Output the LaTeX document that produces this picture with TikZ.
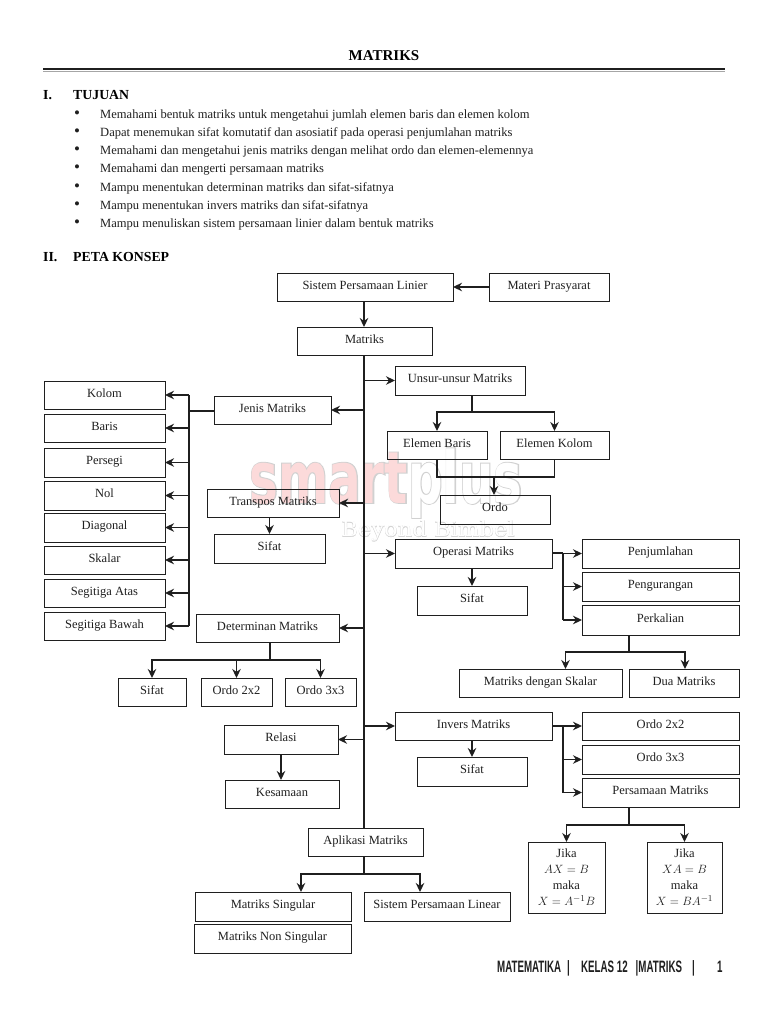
\documentclass[tikz,border=0pt]{standalone}
\usepackage{fontspec}
\usetikzlibrary{arrows.meta,calc}
\setmainfont{Liberation Serif}
\newfontfamily\footfont[FakeStretch=0.59]{Liberation Sans}
\newfontfamily\wmfont[FakeStretch=0.67]{DejaVu Sans}
\newfontfamily\wmoutline[FakeStretch=0.67,FakeBold=2.5]{DejaVu Sans}
\newfontfamily\beyondfont[FakeStretch=1.08]{DejaVu Serif}
\newfontfamily\beyondout[FakeStretch=1.08,FakeBold=2]{DejaVu Serif}
\definecolor{ink}{gray}{0.12}
\definecolor{wmpink}{RGB}{252,218,218}
\definecolor{wmgrey}{gray}{0.82}
\newcommand{\bx}[6]{\node[boxn,minimum width={(#4-#2)*1pt},minimum height={(#5-#3)*1pt}] (#1) at ({(#2+#4)/2},{(#3+#5)/2}) {#6};}
\newcommand{\bul}[2]{\node[bulletn] at (77,{#1+0.5}) {\textbullet}; \node[itemn] at (100,{#1+1}) {#2};}
\newcommand{\mth}[1]{{\fontsize{13}{16}\selectfont$#1$}}
\tikzset{
  boxn/.style={draw=ink,line width=0.95pt,inner sep=0pt,outer sep=0pt,font=\fontsize{12.5}{14}\selectfont,text=ink,text height=8pt,text depth=4pt,align=center},
  itemn/.style={anchor=west,inner sep=0pt,font=\fontsize{12.55}{14}\selectfont,text=ink,text height=9pt,text depth=3pt},
  bulletn/.style={inner sep=0pt,font=\fontsize{17}{17}\selectfont,text=ink,text height=9pt,text depth=3pt},
  headn/.style={anchor=west,inner sep=0pt,font=\fontsize{13.8}{16}\selectfont\bfseries,text=black,text height=9pt,text depth=3pt},
  arr/.style={draw=ink,line width=1.35pt,-{Stealth[length=9pt,width=8.5pt]}},
  ln/.style={draw=ink,line width=1.35pt},
  mathn/.style={draw=ink,line width=0.95pt,inner sep=0pt,outer sep=0pt,font=\fontsize{12.5}{16}\selectfont,text=ink,align=center},
  footn/.style={anchor=base west,inner sep=0pt,font=\fontsize{16.5}{18}\selectfont\footfont\bfseries,text=ink},
}
\begin{document}
\begin{tikzpicture}[x=1pt,y=-1pt]
\useasboundingbox[fill=white] (0,0) rectangle (768,1024);
% watermark
\node[inner sep=0pt,anchor=base east,text=wmgrey,font=\fontsize{72}{72}\selectfont\wmoutline\bfseries] at (408,503) {smart};
\node[inner sep=0pt,anchor=base east,text=wmpink,font=\fontsize{72}{72}\selectfont\wmfont\bfseries] at (408,503) {smart};
\node[inner sep=0pt,anchor=base west,text=wmgrey,font=\fontsize{72}{72}\selectfont\wmoutline\bfseries] at (408,503) {plus};
\node[inner sep=0pt,anchor=base west,text=white,font=\fontsize{72}{72}\selectfont\wmfont\bfseries] at (408,503) {plus};
\node[inner sep=0pt,text=wmgrey,font=\fontsize{21}{21}\selectfont\beyondout] at (428,531) {Beyond Bimbel};
\node[inner sep=0pt,text=white,font=\fontsize{21}{21}\selectfont\beyondfont] at (428,531) {Beyond Bimbel};
% header
\node[inner sep=0pt,font=\fontsize{15}{18}\selectfont\bfseries] (title) at (384,56) {MATRIKS};
\fill[ink] (43,68.2) rectangle (725,70.0);
\fill[gray!70] (43,70.6) rectangle (725,71.6);
\node[headn] (h1) at (43,97) {I.};
\node[headn] (h1b) at (73,97) {TUJUAN};
\bul{115}{Memahami bentuk matriks untuk mengetahui jumlah elemen baris dan elemen kolom}
\bul{133}{Dapat menemukan sifat komutatif dan asosiatif pada operasi penjumlahan matriks}
\bul{151}{Memahami dan mengetahui jenis matriks dengan melihat ordo dan elemen-elemennya}
\bul{169}{Memahami dan mengerti persamaan matriks}
\bul{188}{Mampu menentukan determinan matriks dan sifat-sifatnya}
\bul{206}{Mampu menentukan invers matriks dan sifat-sifatnya}
\bul{224}{Mampu menuliskan sistem persamaan linier dalam bentuk matriks}
\node[headn] (h2) at (43,258) {II.};
\node[headn] (h2b) at (73,258) {PETA KONSEP};
% boxes
\bx{sistem}{277}{273}{453}{301}{Sistem Persamaan Linier}
\bx{materi}{489}{273}{609}{301}{Materi Prasyarat}
\bx{matriks}{297}{327}{432}{355}{Matriks}
\bx{unsur}{395}{366}{525}{395}{Unsur-unsur Matriks}
\bx{ebaris}{387}{431}{487}{459}{Elemen Baris}
\bx{ekolom}{500}{431}{609}{459}{Elemen Kolom}
\bx{ordo}{440}{495}{550}{524}{Ordo}
\bx{jenis}{214}{396}{331}{424}{Jenis Matriks}
\bx{kolom}{44}{381}{165}{409}{Kolom}
\bx{baris}{44}{414}{165}{442}{Baris}
\bx{persegi}{44}{448}{165}{477}{Persegi}
\bx{nol}{44}{481}{165}{510}{Nol}
\bx{diagonal}{44}{513}{165}{542}{Diagonal}
\bx{skalar}{44}{546}{165}{574}{Skalar}
\bx{atas}{44}{579}{165}{607}{Segitiga Atas}
\bx{bawah}{44}{612}{165}{640}{Segitiga Bawah}
\bx{transpos}{207}{489}{339}{517}{Transpos Matriks}
\bx{sifatt}{214}{534}{325}{563}{Sifat}
\bx{operasi}{395}{539}{552}{568}{Operasi Matriks}
\bx{sifato}{417}{586}{527}{615}{Sifat}
\bx{jumlah}{582}{539}{739}{568}{Penjumlahan}
\bx{kurang}{582}{572}{739}{601}{Pengurangan}
\bx{kali}{582}{605}{739}{635}{Perkalian}
\bx{mskalar}{459}{669}{622}{697}{Matriks dengan Skalar}
\bx{dua}{629}{669}{739}{697}{Dua Matriks}
\bx{det}{196}{614}{339}{642}{Determinan Matriks}
\bx{sifatd}{118}{678}{186}{706}{Sifat}
\bx{dordo2}{201}{678}{272}{706}{Ordo 2x2}
\bx{dordo3}{285}{678}{356}{706}{Ordo 3x3}
\bx{relasi}{224}{725}{338}{754}{Relasi}
\bx{kesamaan}{225}{780}{339}{808}{Kesamaan}
\bx{invers}{395}{712}{552}{740}{Invers Matriks}
\bx{sifati}{417}{757}{527}{786}{Sifat}
\bx{iordo2}{582}{712}{739}{740}{Ordo 2x2}
\bx{iordo3}{582}{745}{739}{774}{Ordo 3x3}
\bx{persm}{582}{778}{739}{807}{Persamaan Matriks}
\node[mathn,minimum width=77pt,minimum height=71pt] (jika1) at (566.5,877.5) {Jika\\\mth{AX=B}\\maka\\\mth{X=A^{-1}B}};
\node[mathn,minimum width=75pt,minimum height=71pt] (jika2) at (684.5,877.5) {Jika\\\mth{XA=B}\\maka\\\mth{X=BA^{-1}}};
\bx{aplikasi}{308}{828}{423}{856}{Aplikasi Matriks}
\bx{singular}{195}{892}{351}{921}{Matriks Singular}
\bx{linear}{364}{892}{510}{921}{Sistem Persamaan Linear}
\bx{nonsing}{194}{924}{351}{953}{Matriks Non Singular}
% junction coordinates
\coordinate (sp) at (364,355);
\coordinate (spe) at (364,828);
\coordinate (ls) at (189,411);
\coordinate (ub) at (472,412);
\coordinate (eb) at (494,477);
\coordinate (os) at (563,553);
\coordinate (is) at (563,726);
\coordinate (kb) at (629,652);
\coordinate (pb) at (629,825);
\coordinate (db) at (270,660);
\coordinate (ab) at (364,874);
% connectors
\draw[arr] (materi.west) -- (sistem.east);
\draw[arr] (sistem.south -| sp) -- (matriks.north -| sp);
\draw[ln] (sp) -- (spe);
\draw[arr] (sp |- unsur.west) -- (unsur.west);
\draw[arr] (sp |- jenis.east) -- (jenis.east);
\draw[arr] (sp |- transpos.east) -- (transpos.east);
\draw[arr] (sp |- operasi.west) -- (operasi.west);
\draw[arr] (sp |- det.east) -- (det.east);
\draw[arr] (sp |- invers.west) -- (invers.west);
\draw[arr] (sp |- relasi.east) -- (relasi.east);
% unsur branch
\draw[ln] (unsur.south -| ub) -- (ub);
\draw[arr] (ub) -| (ebaris.north);
\draw[arr] (ub) -| (ekolom.north);
\draw[ln] (ebaris.south) |- (ekolom.south |- eb) -- (ekolom.south);
\draw[arr] (eb) -- (eb |- ordo.north);
% jenis branch
\draw[ln] (jenis.west |- ls) -- (ls);
\draw[ln] (ls |- kolom.east) -- (ls |- bawah.east);
\foreach \n in {kolom,baris,persegi,nol,diagonal,skalar,atas,bawah}{\draw[arr] (ls |- \n.east) -- (\n.east);}
% simple downward
\draw[arr] (transpos.south -| sifatt) -- (sifatt.north);
\draw[arr] (operasi.south -| sifato) -- (sifato.north);
\draw[arr] (invers.south -| sifati) -- (sifati.north);
\draw[arr] (relasi.south) -- (relasi.south |- kesamaan.north);
% operasi branch
\draw[ln] (operasi.east |- os) -- (os);
\draw[ln] (os) -- (os |- kali.west);
\foreach \n in {jumlah,kurang,kali}{\draw[arr] (os |- \n.west) -- (\n.west);}
% perkalian branch
\draw[ln] (kali.south -| kb) -- (kb);
\draw[arr] (kb) -| ($(mskalar.north)+(25,0)$);
\draw[arr] (kb) -| ($(dua.north)+(1,0)$);
% determinan branch
\draw[ln] (det.south -| db) -- (db);
\draw[arr] (db) -| (sifatd.north);
\draw[arr] (db) -| (dordo2.north);
\draw[arr] (db) -| (dordo3.north);
% invers branch
\draw[ln] (invers.east |- is) -- (is);
\draw[ln] (is) -- (is |- persm.west);
\foreach \n in {iordo2,iordo3,persm}{\draw[arr] (is |- \n.west) -- (\n.west);}
% persamaan branch
\draw[ln] (persm.south -| pb) -- (pb);
\draw[arr] (pb) -| (jika1.north);
\draw[arr] (pb) -| (jika2.north);
% aplikasi branch
\draw[ln] (aplikasi.south -| ab) -- (ab);
\draw[arr] (ab) -| ($(singular.north)+(28,0)$);
\draw[arr] (ab) -| ($(linear.north)+(-17,0)$);
% footer
\node[footn] (foot) at (497,972) {MATEMATIKA};
\node[footn] (foot2) at (567,972) {|};
\node[footn] (foot3) at (581,972) {KELAS 12};
\node[footn] (foot4) at (635.5,972) {|MATRIKS};
\node[footn] (foot5) at (692,972) {|};
\node[footn] (foot6) at (717,972) {1};
\end{tikzpicture}
\end{document}
